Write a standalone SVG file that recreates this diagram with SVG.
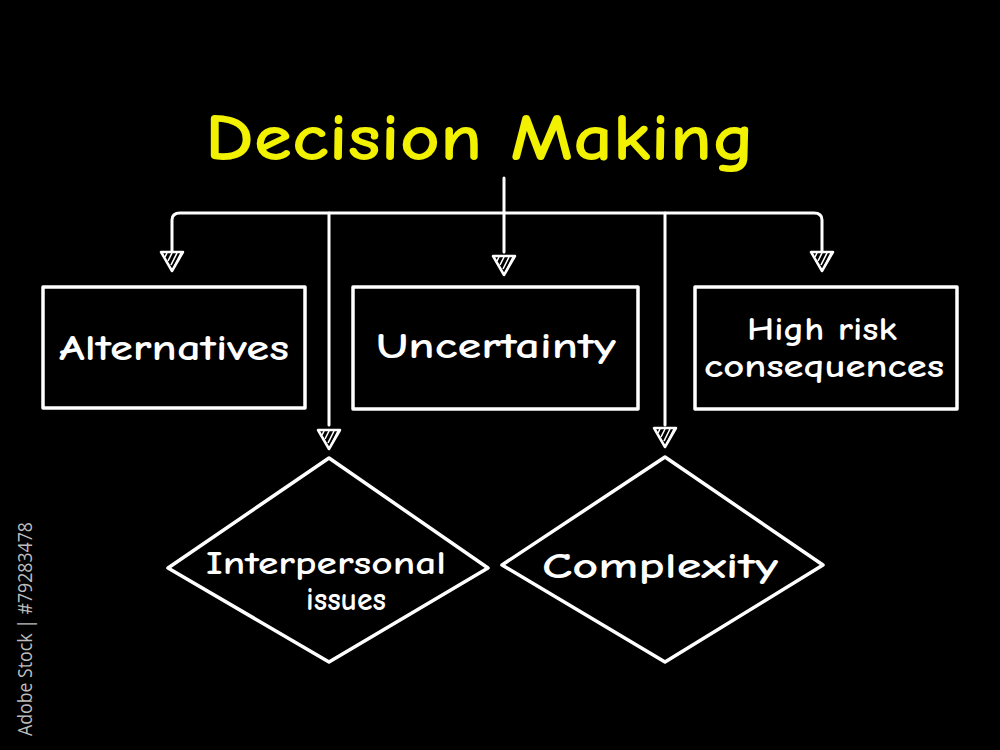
<svg xmlns="http://www.w3.org/2000/svg" width="1000" height="750" viewBox="0 0 1000 750">
<style>
.ln{fill:none;stroke:#fff;stroke-width:3;stroke-linecap:round;stroke-linejoin:round}
.bx{fill:none;stroke:#fff;stroke-width:3.5;stroke-linejoin:round}
.t{fill:#fff;font-family:"Comic Neue","Liberation Sans",sans-serif;font-weight:bold;font-size:36px;text-anchor:middle}
.s{font-size:32px}
.ttl{fill:#f2f200;font-family:"Comic Neue","Liberation Sans",sans-serif;font-weight:bold;font-size:66px;text-anchor:middle}
.wm{fill:#bdbdbd;font-family:"Open Sans",sans-serif;font-size:20px}
</style>
<defs>
<symbol id="ah" viewBox="-12 -12 24 24" overflow="visible">
<path d="M-11,-9 L11,-9 L0,10 Z" fill="#000" stroke="#fff" stroke-width="2.5" stroke-linejoin="round"/>
<path d="M-5,-8 L-7,-4 M0,-8 L-4,0 M5,-8 L-1,4 M9,-8 L2,6" stroke="#fff" stroke-width="1.6" fill="none"/>
</symbol>
</defs>
<rect width="1000" height="750" fill="#000"/>
<text class="wm" transform="translate(32,736) rotate(-90)" textLength="214" lengthAdjust="spacingAndGlyphs">Adobe Stock | #79283478</text>
<g id="title"><text class="ttl" x="480" y="160" textLength="550" lengthAdjust="spacingAndGlyphs">Decision Making</text></g>
<g id="connectors">
<path class="ln" d="M504,178 L504,252"/>
<path class="ln" d="M172,252 L172,220 Q172,213 180,213 L814,213 Q822,213 822,220 L822,252"/>
<path class="ln" d="M329,213 L329,425"/>
<path class="ln" d="M665,213 L665,425"/>
<use href="#ah" x="160" y="249" width="24" height="24"/>
<use href="#ah" x="492" y="253" width="24" height="24"/>
<use href="#ah" x="810" y="249" width="24" height="24"/>
<use href="#ah" x="317" y="427" width="24" height="24"/>
<use href="#ah" x="653" y="425" width="24" height="24"/>
</g>
<g id="alternatives">
<rect class="bx" x="43" y="287" width="262" height="121"/>
<text class="t" x="174" y="360" textLength="230" lengthAdjust="spacingAndGlyphs">Alternatives</text>
</g>
<g id="uncertainty">
<rect class="bx" x="353" y="287" width="285" height="122"/>
<text class="t" x="496" y="358" textLength="240" lengthAdjust="spacingAndGlyphs">Uncertainty</text>
</g>
<g id="high-risk">
<rect class="bx" x="695" y="287" width="262" height="122"/>
<text class="t s" x="822" y="340" textLength="150" lengthAdjust="spacingAndGlyphs">High risk</text>
<text class="t s" x="824" y="377" textLength="240" lengthAdjust="spacingAndGlyphs">consequences</text>
</g>
<g id="interpersonal">
<path class="bx" d="M168,568 L329,458 L488,568 L329,662 Z"/>
<text class="t s" x="326" y="574" textLength="240" lengthAdjust="spacingAndGlyphs">Interpersonal</text>
<text class="t s" x="346" y="610" textLength="80" lengthAdjust="spacingAndGlyphs">issues</text>
</g>
<g id="complexity">
<path class="bx" d="M502,565 L665,457 L823,565 L665,662 Z"/>
<text class="t" x="660" y="578" textLength="236" lengthAdjust="spacingAndGlyphs">Complexity</text>
</g>
</svg>
